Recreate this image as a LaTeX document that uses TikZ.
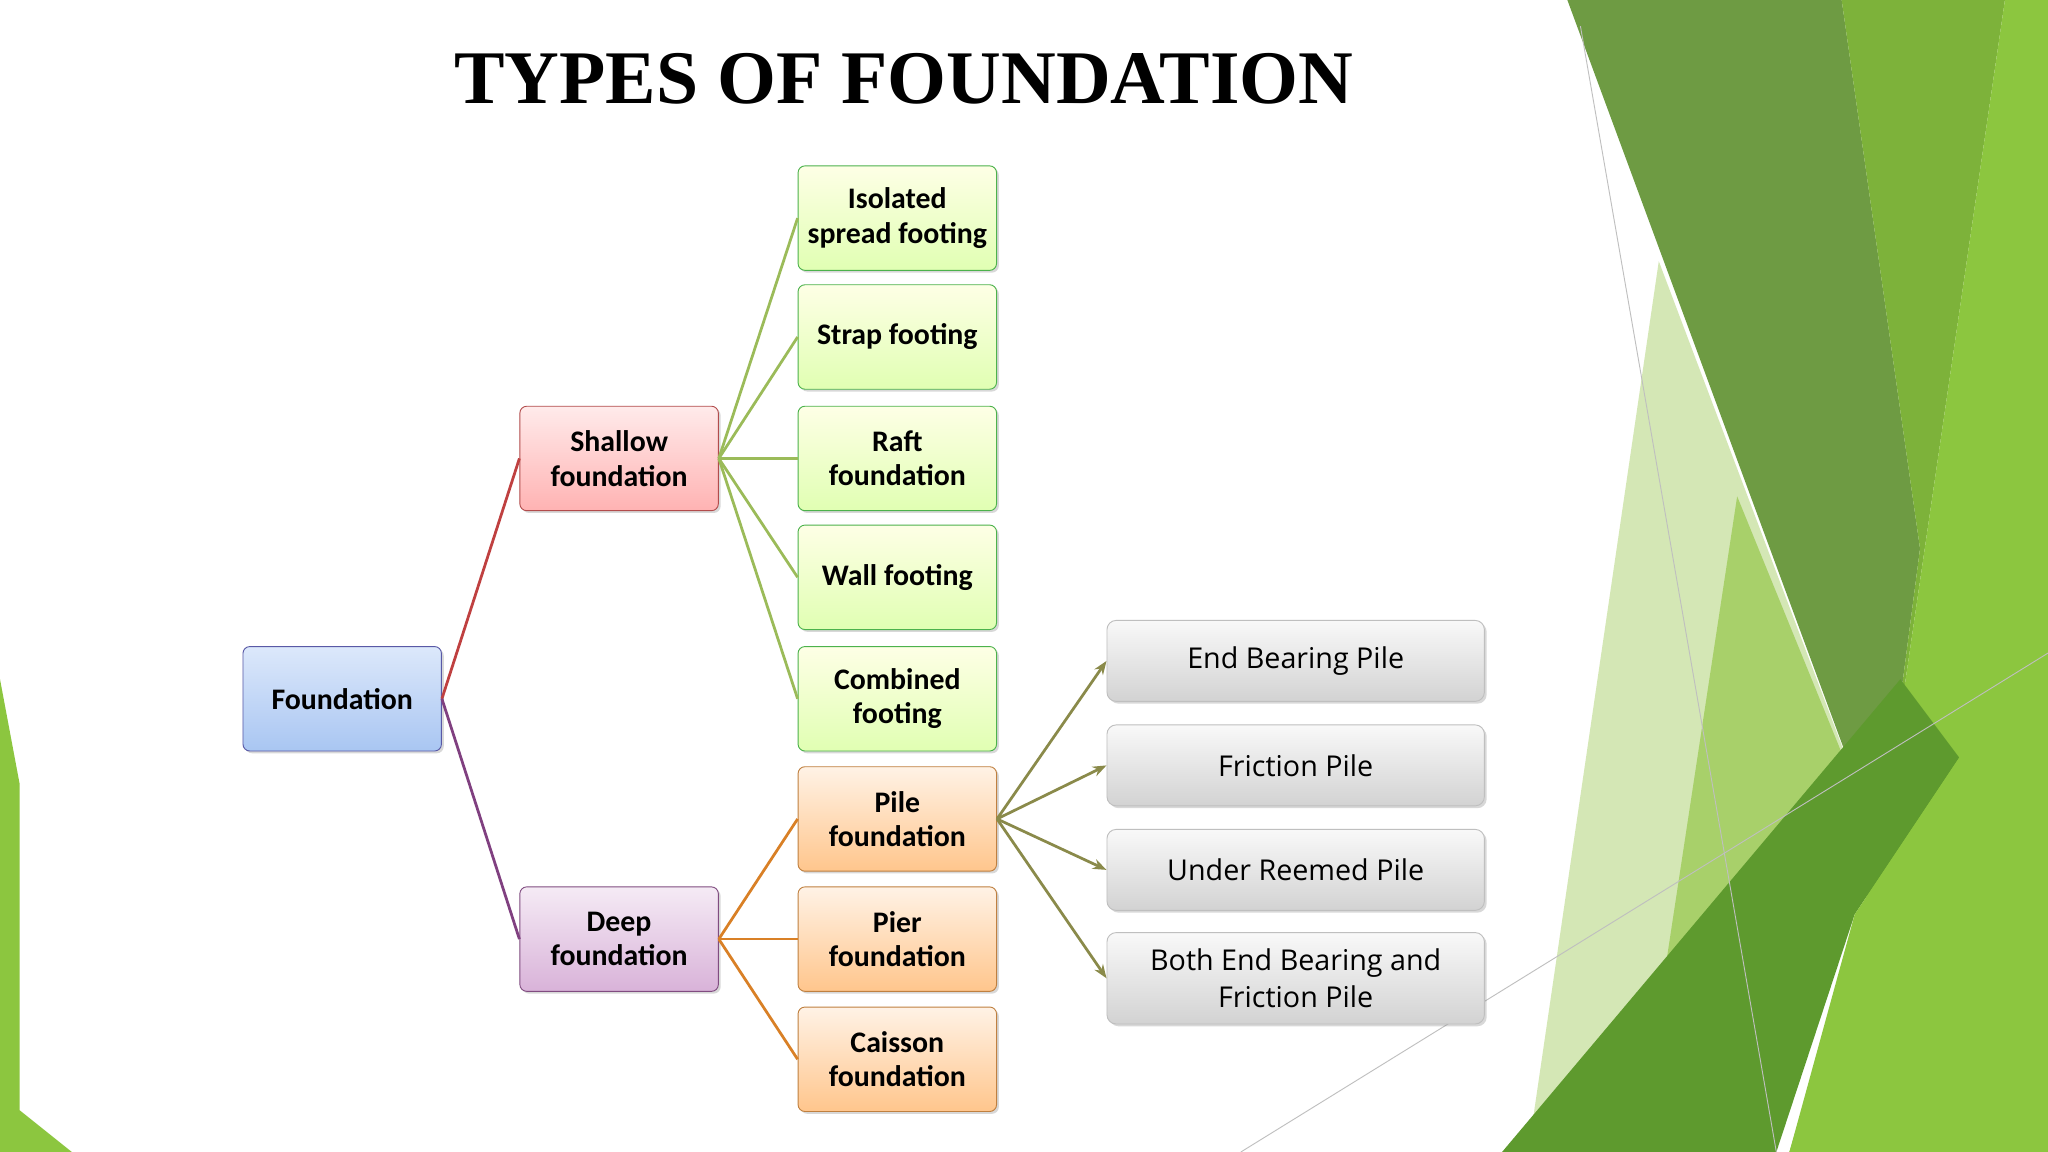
\documentclass[tikz,border=0pt]{standalone}
\usepackage{fontspec}
\setmainfont{Liberation Serif}
\newfontfamily\boxfont{Carlito}
\newfontfamily\greyfont{Open Sans}
\usetikzlibrary{arrows.meta,shadows}
\definecolor{gA}{HTML}{6E9B43}
\definecolor{gB}{HTML}{7DB23A}
\definecolor{gC}{HTML}{8CC63F}
\definecolor{gL}{HTML}{D4E7B5}
\definecolor{gM}{HTML}{A8D06A}
\definecolor{gD}{HTML}{5E9A2E}
\definecolor{olive}{HTML}{8A8A4A}
\definecolor{bluetop}{HTML}{DCE8FB}
\definecolor{bluebot}{HTML}{A9C6F2}
\definecolor{grline}{HTML}{9BBB59}
\tikzset{
 cbox/.style={rounded corners=3pt, minimum width=3.04cm, minimum height=1.6cm, align=center, font=\boxfont\bfseries\fontsize{13}{15}\selectfont, drop shadow={opacity=0.3,shadow xshift=1pt,shadow yshift=-1pt}},
 blue/.style={cbox, draw=blue!30!gray, top color=bluetop, bottom color=bluebot},
 pink/.style={cbox, draw=red!40!gray, top color=red!8, bottom color=red!30},
 purp/.style={cbox, draw=violet!40!gray, top color=violet!8, bottom color=violet!30},
 grn/.style={cbox, draw=green!40!gray, top color=green!5!yellow!10, bottom color=green!40!yellow!30},
 orng/.style={cbox, draw=orange!50!gray, top color=orange!10, bottom color=orange!45},
 gry/.style={rounded corners=4pt, minimum width=5.78cm, minimum height=1.24cm, align=center, font=\greyfont\fontsize{12.5}{16.5}\selectfont, draw=gray!50, top color=gray!5, bottom color=gray!35, drop shadow={opacity=0.3,shadow xshift=1pt,shadow yshift=-1pt}},
 lnk/.style={line width=1.2pt},
 arr/.style={lnk, draw=olive, -{Stealth[length=6pt]}}
}
\begin{document}
\begin{tikzpicture}[x=0.02cm,y=-0.02cm]
\useasboundingbox (0,0) rectangle (1568,882);
\fill[white] (0,0) rectangle (1568,882);
% background
\fill[gA] (1200,0) -- (1410,0) -- (1470,420) -- (1440,650) -- cycle;
\fill[gB] (1410,0) -- (1535,0) -- (1440,650) -- (1470,420) -- cycle;
\fill[gC] (1535,0) -- (1568,0) -- (1568,882) -- (1370,882) -- (1440,650) -- cycle;
\fill[gL] (1270,200) -- (1440,650) -- (1200,882) -- (1170,882) -- cycle;
\fill[gM] (1330,380) -- (1440,650) -- (1260,840) -- cycle;
\fill[gD] (1150,882) -- (1455,520) -- (1500,580) -- (1420,700) -- (1360,882) -- cycle;
\fill[gC] (1500,580) -- (1568,440) -- (1568,882) -- (1370,882) -- (1420,700) -- cycle;
\draw[gray!50, thin] (1210,20) -- (1360,882);
\draw[gray!50, thin] (950,882) -- (1568,500);
\fill[gC] (0,520) -- (15,600) -- (15,850) -- (55,882) -- (0,882) -- cycle;
% title
\node[font=\bfseries\fontsize{33}{36}\selectfont] (title) at (692,60) {TYPES OF FOUNDATION};
% nodes
\node[blue] (f) at (262,535) {Foundation};
\node[pink] (s) at (474,351) {Shallow\\foundation};
\node[purp] (d) at (474,719) {Deep\\foundation};
\node[grn] (g1) at (687,167) {Isolated\\spread footing};
\node[grn] (g2) at (687,258) {Strap footing};
\node[grn] (g3) at (687,351) {Raft\\foundation};
\node[grn] (g4) at (687,442) {Wall footing};
\node[grn] (g5) at (687,535) {Combined\\footing};
\node[orng] (o1) at (687,627) {Pile\\foundation};
\node[orng] (o2) at (687,719) {Pier\\foundation};
\node[orng] (o3) at (687,811) {Caisson\\foundation};
\node[gry] (p1) at (992,506) {End Bearing Pile};
\node[gry] (p2) at (992,586) {Friction Pile};
\node[gry] (p3) at (992,666) {Under Reemed Pile};
\node[gry, minimum height=1.4cm] (p4) at (992,749) {Both End Bearing and\\Friction Pile};
% connectors
\draw[lnk, draw=red!50!gray] (f.east) -- (s.west);
\draw[lnk, draw=violet!50!gray] (f.east) -- (d.west);
\foreach \g in {g1,g2,g3,g4,g5} \draw[lnk, draw=grline] (s.east) -- (\g.west);
\foreach \o in {o1,o2,o3} \draw[lnk, draw=orange!70!gray] (d.east) -- (\o.west);
\foreach \p in {p1,p2,p3,p4} \draw[arr] (o1.east) -- (\p.west);
\end{tikzpicture}
\end{document}
